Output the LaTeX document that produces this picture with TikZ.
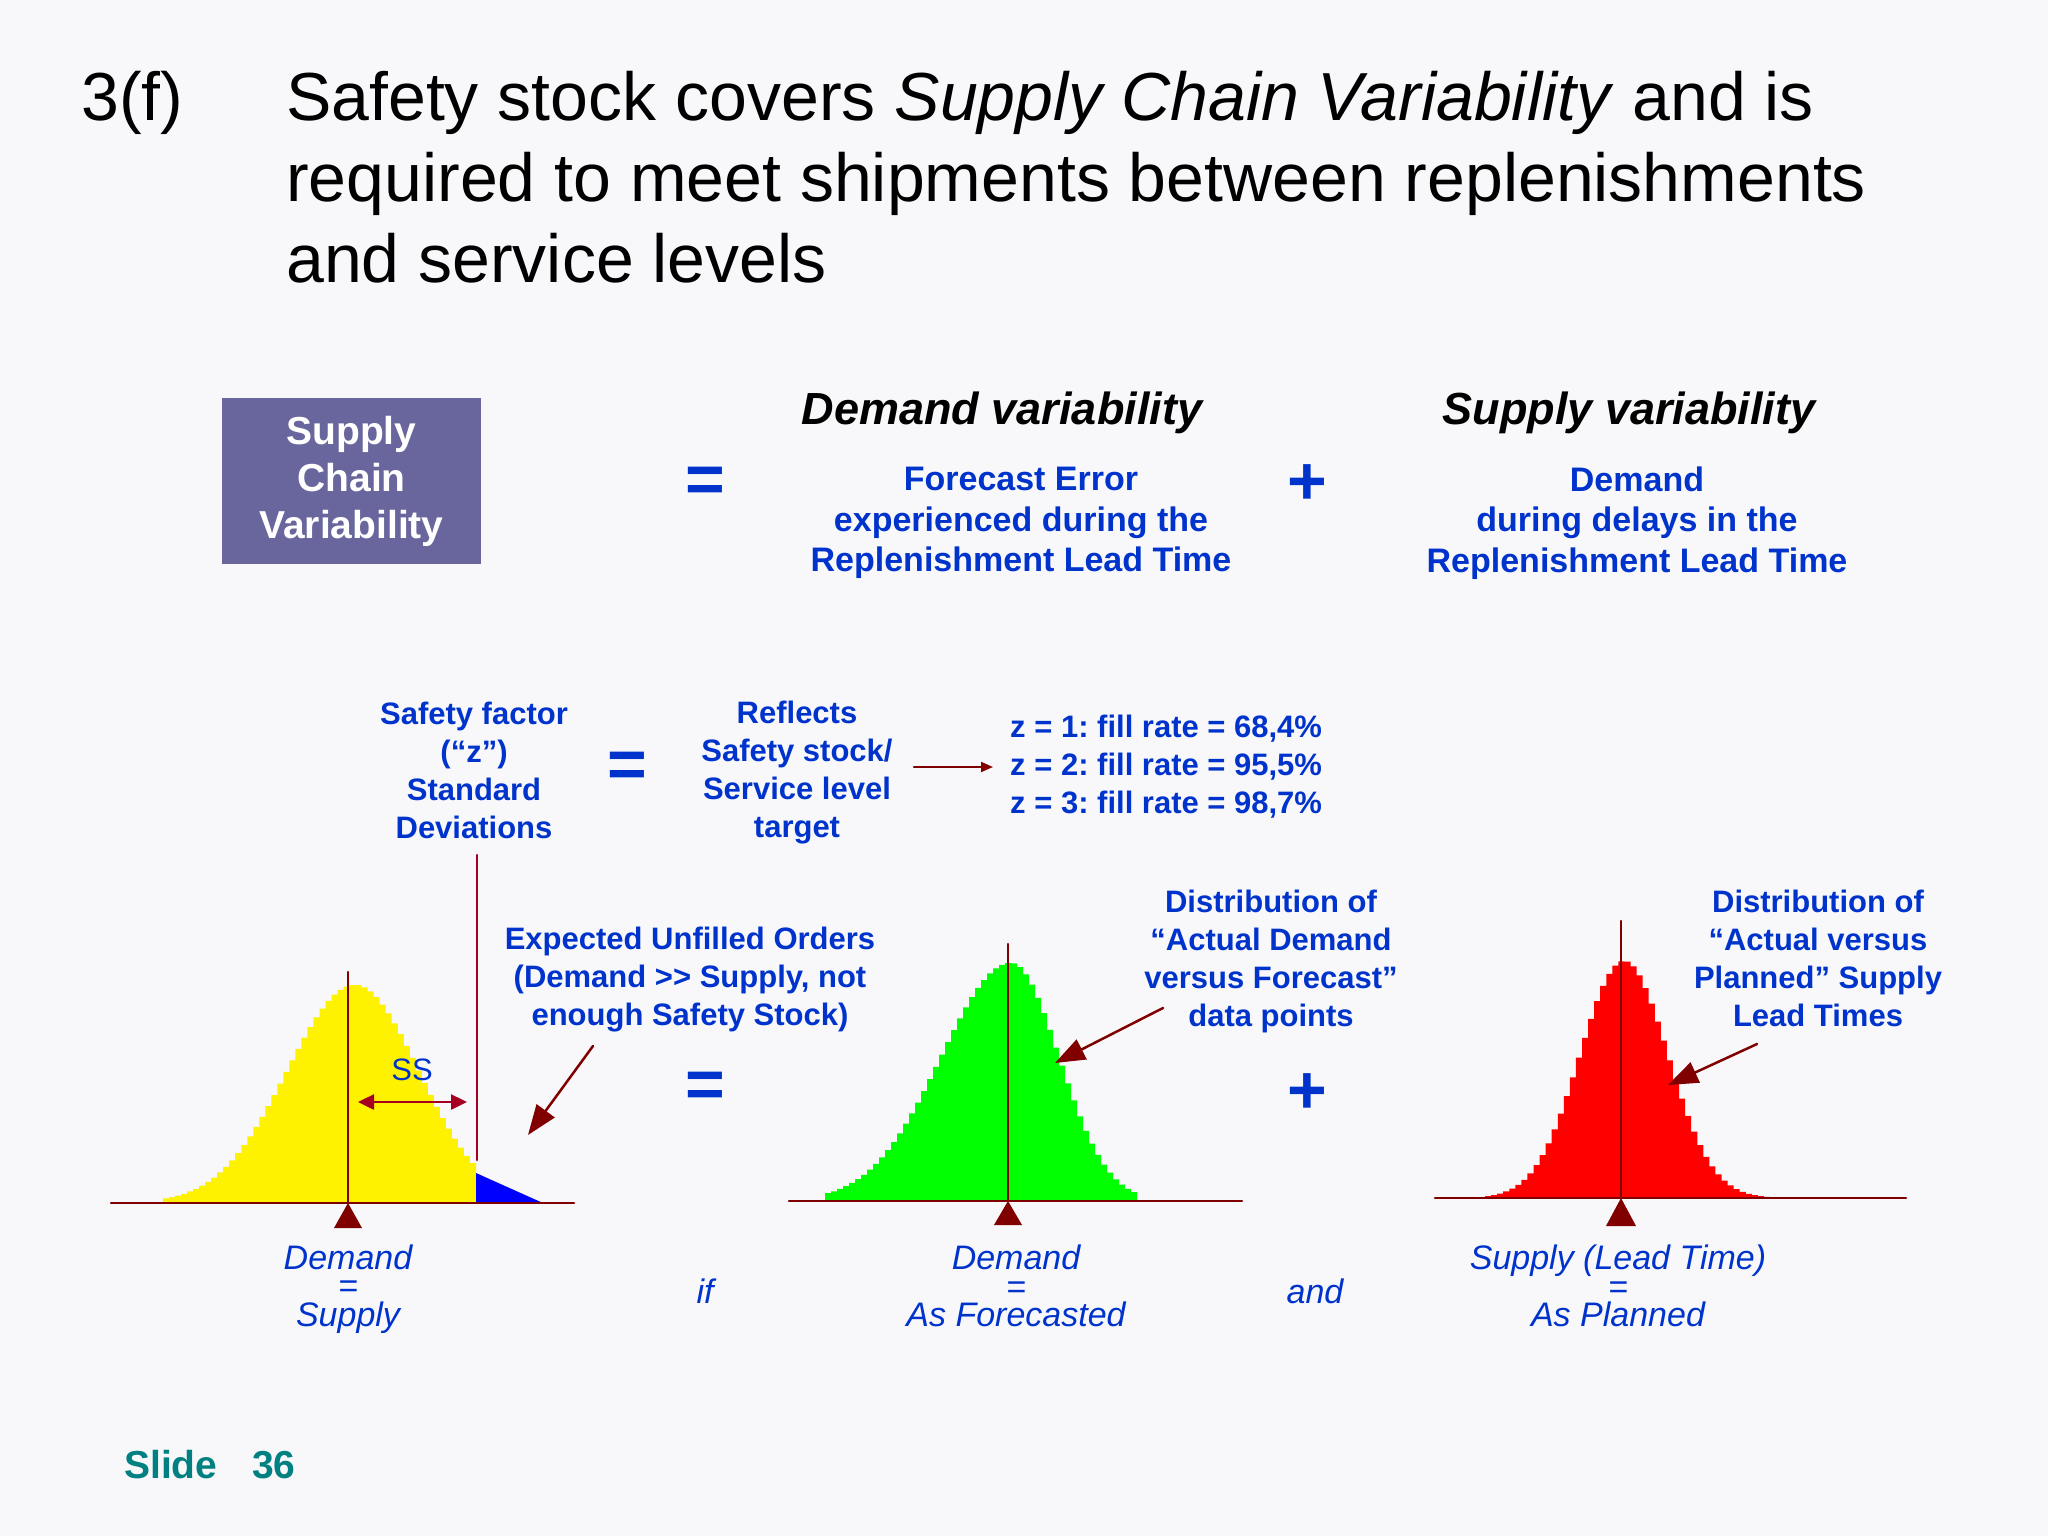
\documentclass[tikz,border=0pt]{standalone}
\usepackage{fontspec}
\setmainfont{Liberation Sans}
\usetikzlibrary{arrows}
\usetikzlibrary{arrows.meta}
\usetikzlibrary{positioning}
\definecolor{pagebg}{RGB}{248,248,250}
\definecolor{txtblue}{RGB}{0,51,204}
\definecolor{boxviolet}{RGB}{104,102,156}
\definecolor{axisred}{RGB}{128,0,0}
\definecolor{markred}{RGB}{165,0,33}
\definecolor{slideteal}{RGB}{0,128,128}
\newcommand{\fsz}[2]{\fontsize{#1}{#2}\selectfont}
\frenchspacing

\begin{document}
\begin{tikzpicture}[x=1pt,y=-1pt,line cap=round,line join=round,>=triangle 45,
  blk/.style={text=txtblue,font={\bfseries\fsz{34}{40.5}},align=center,inner sep=0pt},
  smallblk/.style={text=txtblue,font={\bfseries\fsz{31}{38}},align=center,inner sep=0pt},
  opsign/.style={text=txtblue,font={\bfseries\fsz{68}{68}},inner sep=0pt},
  capt/.style={text=txtblue,font={\itshape\fsz{34}{28.5}},align=center,inner sep=0pt},
  baseaxis/.style={draw=axisred,line width=2.5pt},
  pointarrow/.style={draw=axisred,line width=2.5pt,-{Triangle[length=30pt,width=22pt]}}]
\fill[pagebg] (0,0) rectangle (2048,1536);
\useasboundingbox (0,0) rectangle (2048,1536);
\node[anchor=base west,font={\fsz{68}{81}},inner sep=0pt] (num) at (81,121) {3(f)};
\node[anchor=west,font={\fsz{68}{81}},align=left,inner sep=0pt] (title) at (286,177) {Safety stock covers \textit{Supply Chain Variability} and is\\required to meet shipments between replenishments\\and service levels};
\node[fill=boxviolet,text=white,font={\bfseries\fsz{39}{47}},align=center,minimum width=259pt,minimum height=166pt,inner sep=0pt] (scv) at (351.5,481) {Supply\\Chain\\Variability};
\node[anchor=base,font={\bfseries\itshape\fsz{45}{50}},inner sep=0pt] (dvar) at (1002,424) {Demand variability};
\node[anchor=base,font={\bfseries\itshape\fsz{45}{50}},inner sep=0pt] (svar) at (1629,424) {Supply variability};
\node[opsign] (eqtop) at (705,485) {=};
\node[opsign] (plustop) at (1307,485) {+};
\node[blk] (fcerr) at (1021,523) {Forecast Error\\experienced during the\\Replenishment Lead Time};
\node[blk] (delay) at (1637,523) {Demand\\during delays in the\\Replenishment Lead Time};
\node[smallblk] (sfactor) at (474,770) {Safety factor\\(“z”)\\Standard\\Deviations};
\node[opsign] (eqmid) at (627,770) {=};
\node[smallblk] (reflect) at (797,773) {Reflects\\Safety stock/\\Service level\\target};
\node[smallblk,anchor=west,align=left] (zrates) at (1010,767) {z = 1: fill rate = 68,4\%\\z = 2: fill rate = 95,5\%\\z = 3: fill rate = 98,7\%};
\draw[draw=axisred,line width=2pt,shorten <=21pt,shorten >=17pt,-{Triangle[length=12pt,width=10pt]}] (reflect.east |- zrates.west) -- (zrates.west);
\node[smallblk] (unfilled) at (690,980) {Expected Unfilled Orders\\(Demand >{}> Supply, not\\enough Safety Stock)};
\node[smallblk] (distdem) at (1271,961) {Distribution of\\“Actual Demand\\versus Forecast”\\data points};
\node[smallblk] (distsup) at (1818,958) {Distribution of\\“Actual versus\\Planned” Supply\\Lead Times};
\node[opsign] (eqlow) at (705,1090) {=};
\node[opsign] (pluslow) at (1307,1094) {+};
\fill[yellow] (163,1203) -- plot[const plot,domain=163:476,samples=53] (\x,{1203-218*exp(-((\x-352)/((\x<352)?68:64))^4^0.5/2)}) -- (476,1203) -- cycle;
\fill[blue] (476,1173) -- (543,1203) -- (476,1203) -- cycle;
\fill[green] (825,1201) -- plot[const plot,domain=825:1137,samples=53] (\x,{1201-238*exp(-((\x-1008)/((\x<1008)?70:48))^2/2)}) -- (1137,1201) -- cycle;
\fill[red] (1485,1198) -- plot[const plot,domain=1485:1770,samples=48] (\x,{1198-237*exp(-((\x-1621)/((\x<1621)?44:44))^2/2)}) -- (1770,1198) -- cycle;
\draw[baseaxis] (111,1203) -- (574,1203);
\draw[baseaxis] (348,972) -- (348,1203);
\draw[baseaxis] (789,1201) -- (1242,1201);
\draw[baseaxis] (1008,944) -- (1008,1201);
\draw[baseaxis] (1435,1198) -- (1906,1198);
\draw[baseaxis] (1621,921) -- (1621,1198);
\fill[axisred] (348,1203) -- (334,1228) -- (362,1228) -- cycle;
\fill[axisred] (1008,1201) -- (994,1225) -- (1022,1225) -- cycle;
\fill[axisred] (1621,1198) -- (1606,1226) -- (1636,1226) -- cycle;
\coordinate (sstop) at (477,855);
\coordinate (ssbot) at (477,1160);
\draw[draw=markred,line width=2.5pt] (sstop) -- (ssbot);
\node[text=txtblue,font={\fsz{31}{36}},inner sep=0pt] (sslab) at (412,1070) {SS};
\coordinate (ssL) at (358,1102);
\coordinate (ssR) at (467,1102);
\draw[draw=markred,line width=2.5pt,{Triangle[length=16pt,width=15pt]}-{Triangle[length=16pt,width=15pt]}] (ssL) -- (ssR);
\coordinate (unfA) at (593,1046);
\coordinate (unfB) at (528,1135);
\draw[pointarrow] (unfA) -- (unfB);
\coordinate (demA) at (1163,1008);
\coordinate (demB) at (1055,1063);
\draw[pointarrow] (demA) -- (demB);
\coordinate (supA) at (1757,1044);
\coordinate (supB) at (1668,1085);
\draw[pointarrow] (supA) -- (supB);
\node[capt] (capsupply) at (348,1289) {Demand\\=\\Supply};
\node[capt] (capfc) at (1016,1286) {Demand\\=\\As Forecasted};
\node[capt] (capplan) at (1618,1286) {Supply (Lead Time)\\=\\As Planned};
\node[anchor=base,text=txtblue,font={\itshape\fsz{34}{40}},inner sep=0pt] (ifword) at (705,1303) {if};
\node[anchor=base,text=txtblue,font={\itshape\fsz{34}{40}},inner sep=0pt] (andword) at (1315,1303) {and};
\node[anchor=base west,text=slideteal,font={\bfseries\fsz{39}{44}},inner sep=0pt] (slide) at (124,1478) {Slide};
\node[anchor=base west,text=slideteal,font={\bfseries\fsz{39}{44}},inner sep=0pt] (slidenum) at (252,1478) {36};
\end{tikzpicture}
\end{document}
